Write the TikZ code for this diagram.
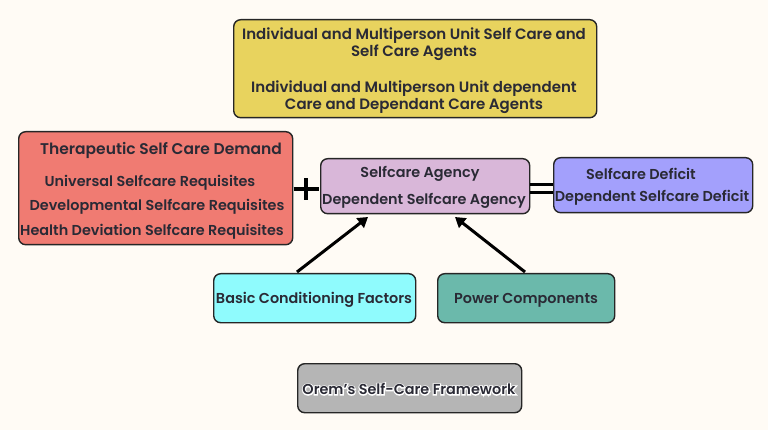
\documentclass[tikz,border=0pt]{standalone}
\usepackage{fontspec}
\setmainfont{Poppins}[BoldFont={* SemiBold}]
\usetikzlibrary{arrows.meta}
\definecolor{bgc}{HTML}{FFFBF5}
\definecolor{yel}{HTML}{E8D35E}
\definecolor{redc}{HTML}{F07B72}
\definecolor{lil}{HTML}{D9B7D9}
\definecolor{peri}{HTML}{A3A0FC}
\definecolor{cyn}{HTML}{8FFBFD}
\definecolor{tea}{HTML}{6BB9AB}
\definecolor{gry}{HTML}{B5B5B5}
\definecolor{txt}{HTML}{2A2A35}
\newcommand{\halotext}[1]{\leavevmode\rlap{\special{pdf:code q 1 1 1 RG 2.2 w 1 Tr}#1\special{pdf:code Q}}#1}
\tikzset{
  box/.style={draw=black!85, line width=1.4pt, rounded corners=7pt},
  lbl/.style={text=txt, font=\bfseries\fontsize{14.4}{16}\selectfont, inner sep=0pt, yshift=-2pt},
  conn/.style={line width=3pt, -{Triangle[length=10pt,width=12pt]}},
  sym/.style={line width=3.8pt}
}
\begin{document}
\begin{tikzpicture}[x=1pt,y=-1pt]
\fill[bgc] (0,0) rectangle (768,430);
\useasboundingbox (0,0) rectangle (768,430);
% top box
\node[box, fill=yel, minimum width=363pt, minimum height=98pt, anchor=north west] (top) at (233,19) {};
\node[lbl, font=\bfseries\fontsize{15}{16}\selectfont] (t1) at (414,34) {Individual and Multiperson Unit Self Care and};
\node[lbl, font=\bfseries\fontsize{15}{16}\selectfont] (t2) at (414,51) {Self Care Agents};
\node[lbl, font=\bfseries\fontsize{15}{16}\selectfont] (t3) at (414,87) {Individual and Multiperson Unit dependent};
\node[lbl, font=\bfseries\fontsize{15}{16}\selectfont] (t4) at (414,104) {Care and Dependant Care Agents};
% left box
\node[box, fill=redc, minimum width=274pt, minimum height=113pt, anchor=north west] (demand) at (18,131) {};
\node[lbl, font=\bfseries\fontsize{15.5}{17}\selectfont] (d0) at (161,148) {Therapeutic Self Care Demand};
\node[lbl] (d1) at (150,181) {Universal Selfcare Requisites};
\node[lbl] (d2) at (157,205) {Developmental Selfcare Requisites};
\node[lbl] (d3) at (152,230) {Health Deviation Selfcare Requisites};
% plus
\coordinate (plus) at (306,189);
\draw[sym] ([xshift=-12.5pt]plus) -- ([xshift=12.5pt]plus) ([yshift=-11pt]plus) -- ([yshift=11pt]plus);
% middle box
\node[box, fill=lil, minimum width=209pt, minimum height=55pt, anchor=north west] (agency) at (320,158) {};
\node[lbl] (a1) at (420,172) {Selfcare Agency};
\node[lbl] (a2) at (424,199) {Dependent Selfcare Agency};
% right box
\node[box, fill=peri, minimum width=199pt, minimum height=55pt, anchor=north west] (deficit) at (553,157) {};
\node[lbl] (f1) at (641,172) {Selfcare Deficit};
\node[lbl] (f2) at (652,196) {Dependent Selfcare Deficit};
% equals
\draw[sym] (agency.east|-0,184.5) -- (deficit.west|-0,184.5);
\draw[sym] (agency.east|-0,192.5) -- (deficit.west|-0,192.5);
% bottom boxes
\node[box, fill=cyn, minimum width=202pt, minimum height=49pt, anchor=north west] (basic) at (213,273) {};
\node[lbl] at (314,298) {Basic Conditioning Factors};
\node[box, fill=tea, minimum width=177pt, minimum height=49pt, anchor=north west] (power) at (437,273) {};
\node[lbl] at (526,298) {Power Components};
% arrows
\coordinate (b0) at (297,272);
\coordinate (b1) at (368,217);
\coordinate (p0) at (525,272);
\coordinate (p1) at (455,217);
\draw[conn] (b0) -- (b1);
\draw[conn] (p0) -- (p1);
% title
\node[box, fill=gry, minimum width=224pt, minimum height=49pt, anchor=north west] (orem) at (297,363) {};
\node[lbl] at (409,387) {\halotext{Orem’s Self-Care Framework}};
\end{tikzpicture}
\end{document}
